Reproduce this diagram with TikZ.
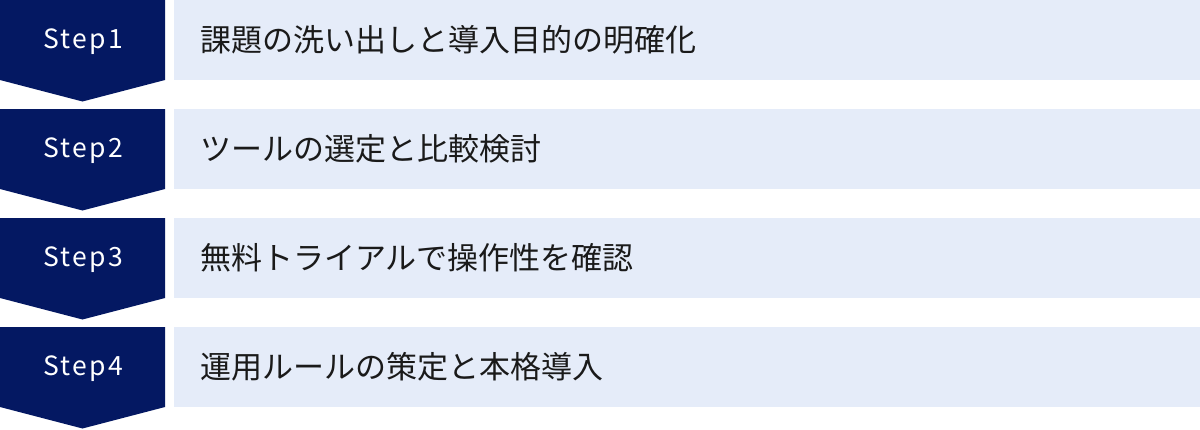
\documentclass[tikz,border=0pt]{standalone}
\usepackage{fontspec}
\setmainfont{Noto Sans}
\newfontfamily\jpfont{Noto Sans CJK JP}
\newfontfamily\stepfont[LetterSpace=9]{Noto Sans CJK JP}
\definecolor{navy}{HTML}{041862}
\definecolor{lightbg}{HTML}{E5ECF9}
\definecolor{txt}{HTML}{1A1A1A}
\tikzset{
  x=1pt, y=-1pt,
  stepshape/.style={fill=navy, draw=none},
  bar/.style={fill=lightbg, draw=none},
  steplabel/.style={text=white, font=\stepfont\fontsize{26.5}{30}\selectfont, inner sep=0pt, anchor=base},
  desc/.style={text=txt, font=\jpfont\fontsize{31}{34}\selectfont, anchor=west, inner sep=0pt},
}
\begin{document}
\begin{tikzpicture}
\useasboundingbox (0,0) rectangle (1200,429);
\foreach \i/\t/\s in {1/0/課題の洗い出しと導入目的の明確化, 2/109/ツールの選定と比較検討, 3/218/無料トライアルで操作性を確認, 4/327/運用ルールの策定と本格導入}{
  \fill[stepshape] (0,\t) -- (165,\t) -- (165,\t+80) -- (82.5,\t+101.5) -- (0,\t+80) -- cycle;
  \fill[bar] (174,\t) rectangle (1200,\t+80);
  \node[steplabel] (step\i) at (83.5,\t+48.5) {Step\i};
  \node[desc] (desc\i) at (200,\t+40) {\s};
}
\end{tikzpicture}
\end{document}
